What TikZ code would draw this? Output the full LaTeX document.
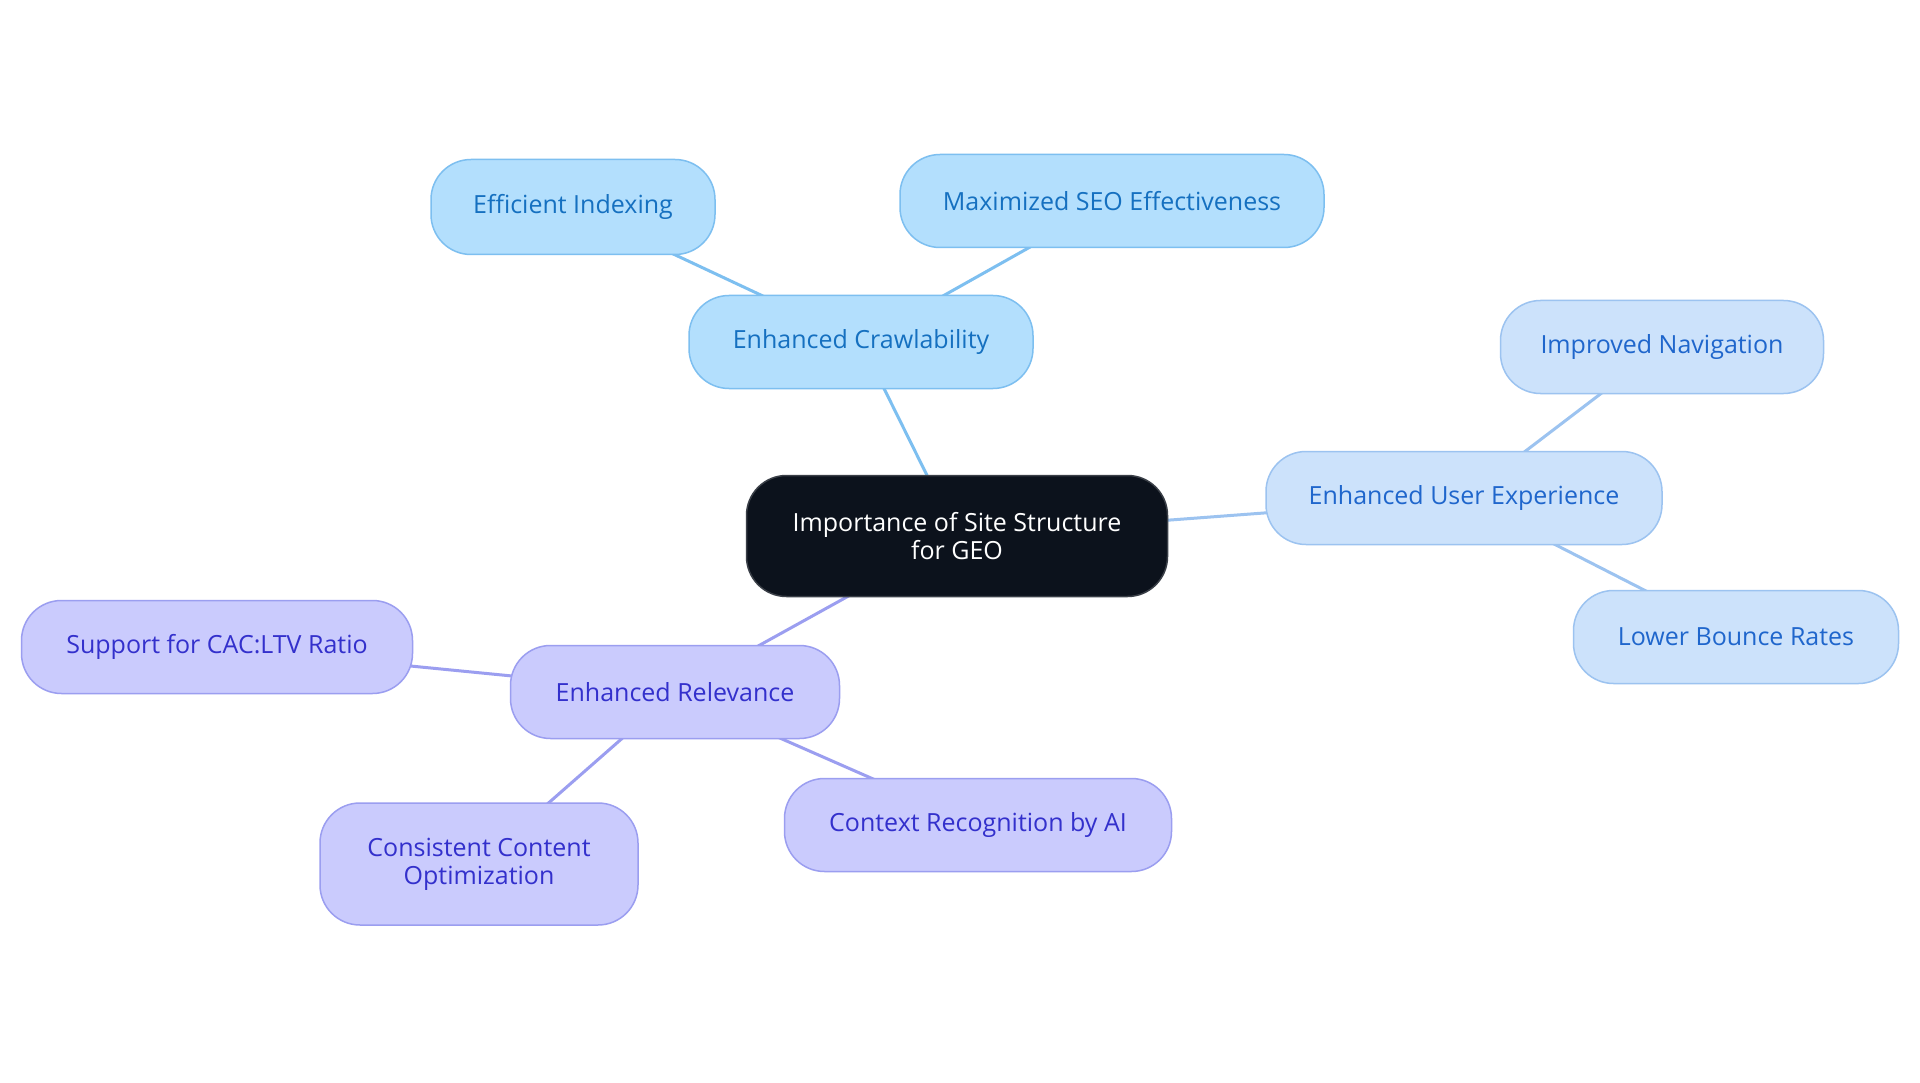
\documentclass[tikz,border=0pt]{standalone}
\usepackage{fontspec}
\setmainfont{Open Sans}
\usetikzlibrary{backgrounds}
\definecolor{crawlfill}{HTML}{B3DFFD}
\definecolor{crawldraw}{HTML}{7DBFF0}
\definecolor{crawltext}{HTML}{1570C0}
\definecolor{uxfill}{HTML}{CCE2FB}
\definecolor{uxdraw}{HTML}{9CC3F0}
\definecolor{uxtext}{HTML}{1F66CC}
\definecolor{relfill}{HTML}{CACBFD}
\definecolor{reldraw}{HTML}{9B9EF0}
\definecolor{reltext}{HTML}{3330CC}
\definecolor{rootfill}{HTML}{0C121C}
\definecolor{rootdraw}{HTML}{3A3F47}
\begin{document}
\begin{tikzpicture}[x=1pt,y=-1pt,
  box/.style={rounded corners=40pt, line width=1.5pt, align=center, inner sep=0pt,
    minimum height=93pt, font=\fontsize{25}{28}\selectfont},
  rootbox/.style={box, fill=rootfill, draw=rootdraw, text=white, minimum width=421pt, minimum height=121pt},
  crawl/.style={box, fill=crawlfill, draw=crawldraw, text=crawltext},
  ux/.style={box, fill=uxfill, draw=uxdraw, text=uxtext},
  rel/.style={box, fill=relfill, draw=reldraw, text=reltext},
  crawlline/.style={draw=crawldraw, line width=3pt},
  uxline/.style={draw=uxdraw, line width=3pt},
  relline/.style={draw=reldraw, line width=3pt}]
\useasboundingbox (0,0) rectangle (1920,1083);
\node[rootbox] (root) at (957,536) {Importance of Site Structure\\for GEO};
\node[crawl, minimum width=344pt] (crawl) at (861,342) {Enhanced Crawlability};
\node[crawl, minimum width=284pt, minimum height=95pt] (index) at (573,207) {Efficient Indexing};
\node[crawl, minimum width=424pt] (seo) at (1112,201) {Maximized SEO Effectiveness};
\node[ux, minimum width=396pt] (ux) at (1464,498) {Enhanced User Experience};
\node[ux, minimum width=323pt] (nav) at (1662,347) {Improved Navigation};
\node[ux, minimum width=325pt] (bounce) at (1736,637) {Lower Bounce Rates};
\node[rel, minimum width=329pt] (rel) at (675,692) {Enhanced Relevance};
\node[rel, minimum width=391pt] (cac) at (217,647) {Support for CAC:LTV Ratio};
\node[rel, minimum width=318pt, minimum height=122pt] (cons) at (479,864) {Consistent Content\\Optimization};
\node[rel, minimum width=387pt] (ctx) at (978,825) {Context Recognition by AI};
\begin{pgfonlayer}{background}
\fill[white] (0,0) rectangle (1920,1083);
\draw[crawlline] (root.center) -- (crawl.center);
\draw[crawlline] (crawl.center) -- (index.center);
\draw[crawlline] (crawl.center) -- (seo.center);
\draw[uxline] (root.center) -- (ux.center);
\draw[uxline] (ux.center) -- (nav.center);
\draw[uxline] (ux.center) -- (bounce.center);
\draw[relline] (root.center) -- (rel.center);
\draw[relline] (rel.center) -- (cac.center);
\draw[relline] (rel.center) -- (cons.center);
\draw[relline] (rel.center) -- (ctx.center);
\end{pgfonlayer}
\end{tikzpicture}
\end{document}
